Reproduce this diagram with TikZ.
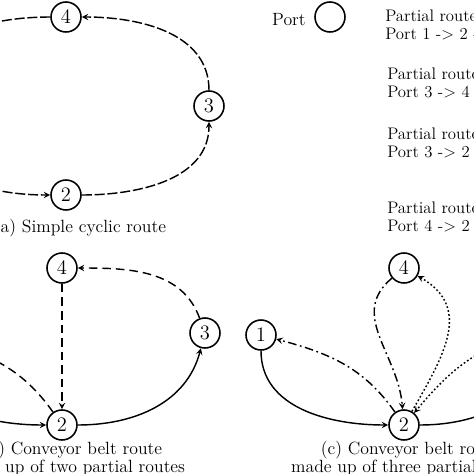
\documentclass[tikz,border=0pt]{standalone}
\usetikzlibrary{arrows}

\tikzset{
  port/.style={circle,draw,line width=1.1pt,minimum size=21pt,inner sep=0pt,font=\Large},
  route/.style={-stealth,line width=1pt},
  longdash/.style={dash pattern=on 7pt off 2pt},
  shortdash/.style={dash pattern=on 6pt off 3.5pt},
  dashdotted/.style={dash pattern=on 6pt off 2.5pt on 1.2pt off 2.5pt},
  dotty/.style={dash pattern=on 1.2pt off 1.6pt},
  legendtext/.style={anchor=north west,inner sep=0pt,align=left,font=\fontsize{11.7pt}{12pt}\selectfont},
  captiontext/.style={anchor=north,inner sep=0pt,align=center}
}

\begin{document}
\begin{tikzpicture}[x=0.7pt,y=0.7pt,font=\fontsize{12.4pt}{12.4pt}\selectfont]
\useasboundingbox (0,0) rectangle (474,-474);
\clip (0,0) rectangle (474,-474);

% (a) simple cycle
\node[port] (a1) at (-77,-106) {1};
\node[port] (a2) at (66,-195) {2};
\node[port] (a3) at (209,-106) {3};
\node[port] (a4) at (66,-17) {4};
\draw[route,longdash] (a1) to[out=-90,in=180] (a2);
\draw[route,longdash] (a2) to[out=0,in=-90] (a3);
\draw[route,longdash] (a3) to[out=90,in=0] (a4);
\draw[route,longdash] (a4) to[out=180,in=90] (a1);
\node[anchor=base,inner sep=0pt] (capa) at (80,-232) {(a) Simple cyclic route};

% (b) two partial routes
\node[port] (b1) at (-81,-335) {1};
\node[port] (b2) at (62,-425) {2};
\node[port] (b3) at (205,-333) {3};
\node[port] (b4) at (62,-268) {4};
\draw[route] (b1) to[out=-90,in=180] (b2);
\draw[route] (b2) to[out=0,in=-105] (b3);
\draw[route,shortdash] (b3) to[out=110,in=0] (b4);
\draw[route,shortdash] (b4) -- (b2);
\draw[route,shortdash] (b2) to[out=125,in=-15] (b1);
\node[captiontext] (capb) at (72,-441) {(b) Conveyor belt route\\made up of two partial routes};

% (c) three partial routes
\node[port] (c1) at (261,-335) {1};
\node[port] (c2) at (404,-425) {2};
\node[port] (c3) at (547,-333) {3};
\node[port] (c4) at (404,-268) {4};
\draw[route] (c1) to[out=-90,in=180] (c2);
\draw[route] (c2) to[out=0,in=-105] (c3);
\draw[route,dashdotted] (c4) to[out=-140,in=95,looseness=1.1] (c2);
\draw[route,dashdotted] (c2) to[out=125,in=-15] (c1);
\draw[route,dotty] (c2) to[out=60,in=-30,looseness=1.2] (c4);
\draw[route,dotty] (c3) to[out=190,in=50] (c2);
\node[captiontext] (capc) at (410,-441) {(c) Conveyor belt route\\made up of three partial routes};

% legend
\node[anchor=base east,inner sep=0pt] (porttext) at (306,-25) {Port};
\node[port] (portkey) at (330,-17) {};
\node[legendtext] (leg1) at (385,-10) {Partial route\\Port 1 -> 2 -> 3};
\node[legendtext] (leg2) at (387,-68) {Partial route\\Port 3 -> 4 -> 2 -> 1};
\node[legendtext] (leg3) at (387,-128) {Partial route\\Port 3 -> 2 -> 4};
\node[legendtext] (leg4) at (387,-202) {Partial route\\Port 4 -> 2 -> 1};
\end{tikzpicture}
\end{document}
